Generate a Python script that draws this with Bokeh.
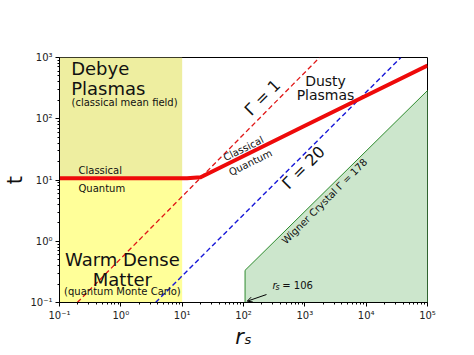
from bokeh.plotting import figure
from bokeh.models import Label, Arrow, OpenHead, FixedTicker
from bokeh.embed import file_html
from bokeh.resources import INLINE

# ---- data ----
rs_ticks = [0.1, 1, 10, 100, 1000, 10000, 100000]
rs_tick_labels = ["10⁻¹", "10⁰", "10¹", "10²", "10³", "10⁴", "10⁵"]
t_ticks = [0.1, 1, 10, 100, 1000]
t_tick_labels = ["10⁻¹", "10⁰", "10¹", "10²", "10³"]

region_rs = [0.1, 10]            # Debye / WDM column
region_t = [0.1, 10, 1000]       # bottom, split, top

boundary_rs = [0.1, 12, 20, 1000, 100000]   # classical / quantum boundary
boundary_t = [10.7, 10.7, 11.1, 77, 741]

gamma1_rs = [0.195, 1740]
gamma1_t = [0.1, 1000]
gamma20_rs = [3.68, 36800]
gamma20_t = [0.1, 1000]

wigner_rs = [106, 106, 100000]
wigner_t = [0.1, 0.335, 289]

FONT = "DejaVu Sans"

p = figure(x_axis_type="log", y_axis_type="log",
           x_range=(0.1, 1e5), y_range=(0.1, 1000),
           frame_width=368, frame_height=245,
           min_border_left=59, min_border_top=57,
           min_border_right=39, min_border_bottom=45,
           output_backend="svg", toolbar_location=None,
           background_fill_color="white", border_fill_color="white")
p.outline_line_color = "black"
p.outline_line_width = 1
p.xgrid.visible = False
p.ygrid.visible = False

def minors(ticks):
    out = []
    for t in ticks[:-1]:
        out += [t * k for k in range(2, 10)]
    return out

p.xaxis.ticker = FixedTicker(ticks=rs_ticks, minor_ticks=minors(rs_ticks))
p.yaxis.ticker = FixedTicker(ticks=t_ticks, minor_ticks=minors(t_ticks))
p.xaxis.major_label_overrides = dict(zip(rs_ticks, rs_tick_labels))
p.yaxis.major_label_overrides = dict(zip(t_ticks, t_tick_labels))
for ax in p.axis:
    ax.major_tick_in = 0
    ax.major_tick_out = 4
    ax.minor_tick_in = 0
    ax.minor_tick_out = 2
    ax.axis_line_color = "black"
    ax.major_tick_line_color = "black"
    ax.minor_tick_line_color = "black"
    ax.major_label_text_font = FONT
    ax.major_label_text_font_size = "10px"
    ax.major_label_text_color = "#222222"
    ax.axis_label_text_font = FONT
    ax.axis_label_text_font_size = "21px"
    ax.axis_label_text_color = "#111111"
p.xaxis.major_label_standoff = 3
p.yaxis.major_label_standoff = 3
p.xaxis.axis_label = "rₛ"
p.xaxis.axis_label_text_font_style = "italic"
p.xaxis.axis_label_standoff = 1
p.yaxis.axis_label = "t"
p.yaxis.axis_label_text_font_style = "normal"
p.yaxis.axis_label_standoff = 0

# regions
p.quad(left=region_rs[0], right=region_rs[1], bottom=region_t[0], top=region_t[1],
       fill_color="#ffff99", line_color=None)
p.quad(left=region_rs[0], right=region_rs[1], bottom=region_t[1], top=region_t[2],
       fill_color="#eeeea0", line_color=None)

# Gamma lines
p.line(gamma1_rs, gamma1_t, line_color="#e01818", line_dash="5 3", line_width=1.3)
p.line(gamma20_rs, gamma20_t, line_color="#1818d8", line_dash="5 3", line_width=1.4)

# Wigner crystal
p.patch(x=wigner_rs + [wigner_rs[-1]], y=wigner_t + [wigner_t[0]],
        fill_color="#cce6cc", line_color="#2e8b2e", line_width=1)

# classical/quantum boundary
p.line(boundary_rs, boundary_t, line_color="#ee0a0a", line_width=4, line_join="round")

UP = 1.2  # small upward nudge for baseline-anchored labels

def lab(x, y, text, size, align="left", baseline="alphabetic", angle=0, style="normal",
        color="#111111", nudge=True):
    if baseline == "alphabetic" and nudge:
        y = y * UP
    p.add_layout(Label(x=x, y=y, text=text, text_font=FONT, text_font_size=size,
                       text_align=align, text_baseline=baseline, angle=angle,
                       angle_units="deg", text_font_style=style, text_color=color))

lab(0.155, 542, "Debye", "18px")
lab(0.155, 255, "Plasmas", "18px")
lab(0.157, 154.5, "(classical mean field)", "10px")
lab(0.204, 11.8, "Classical", "10px")
lab(0.204, 7.27, "Quantum", "10px", nudge=False)
lab(1.06, 0.417, "Warm Dense", "18px", align="center")
lab(1.06, 0.1945, "Matter", "18px", align="center")
lab(1.06, 0.1253, "(quantum Monte Carlo)", "10px", align="center")
lab(204, 222, "Γ = 1", "16px", align="center", baseline="middle", angle=45)
lab(951, 16.0, "Γ = 20", "16px", align="center", baseline="middle", angle=45)
lab(100, 32.7, "Classical", "10px", align="center", baseline="middle", angle=26)
lab(130, 19.3, "Quantum", "10px", align="center", baseline="middle", angle=26)
lab(2173, 349, "Dusty", "14px", align="center")
lab(2173, 206, "Plasmas", "14px", align="center")
lab(2094, 4.5, "Wigner Crystal Γ = 178", "10px", align="center", baseline="middle", angle=45)

# r_s = 106 annotation
lab(297, 0.157, "r", "10px", style="italic")
lab(333, 0.1456, "s", "8px", style="italic")
lab(428, 0.157, "= 106", "10px")
p.add_layout(Arrow(end=OpenHead(size=5, line_color="black", line_width=1),
                   x_start=237, y_start=0.135, x_end=115, y_end=0.105,
                   line_color="black", line_width=1))

open("out.html", "w").write(file_html(p, INLINE))
